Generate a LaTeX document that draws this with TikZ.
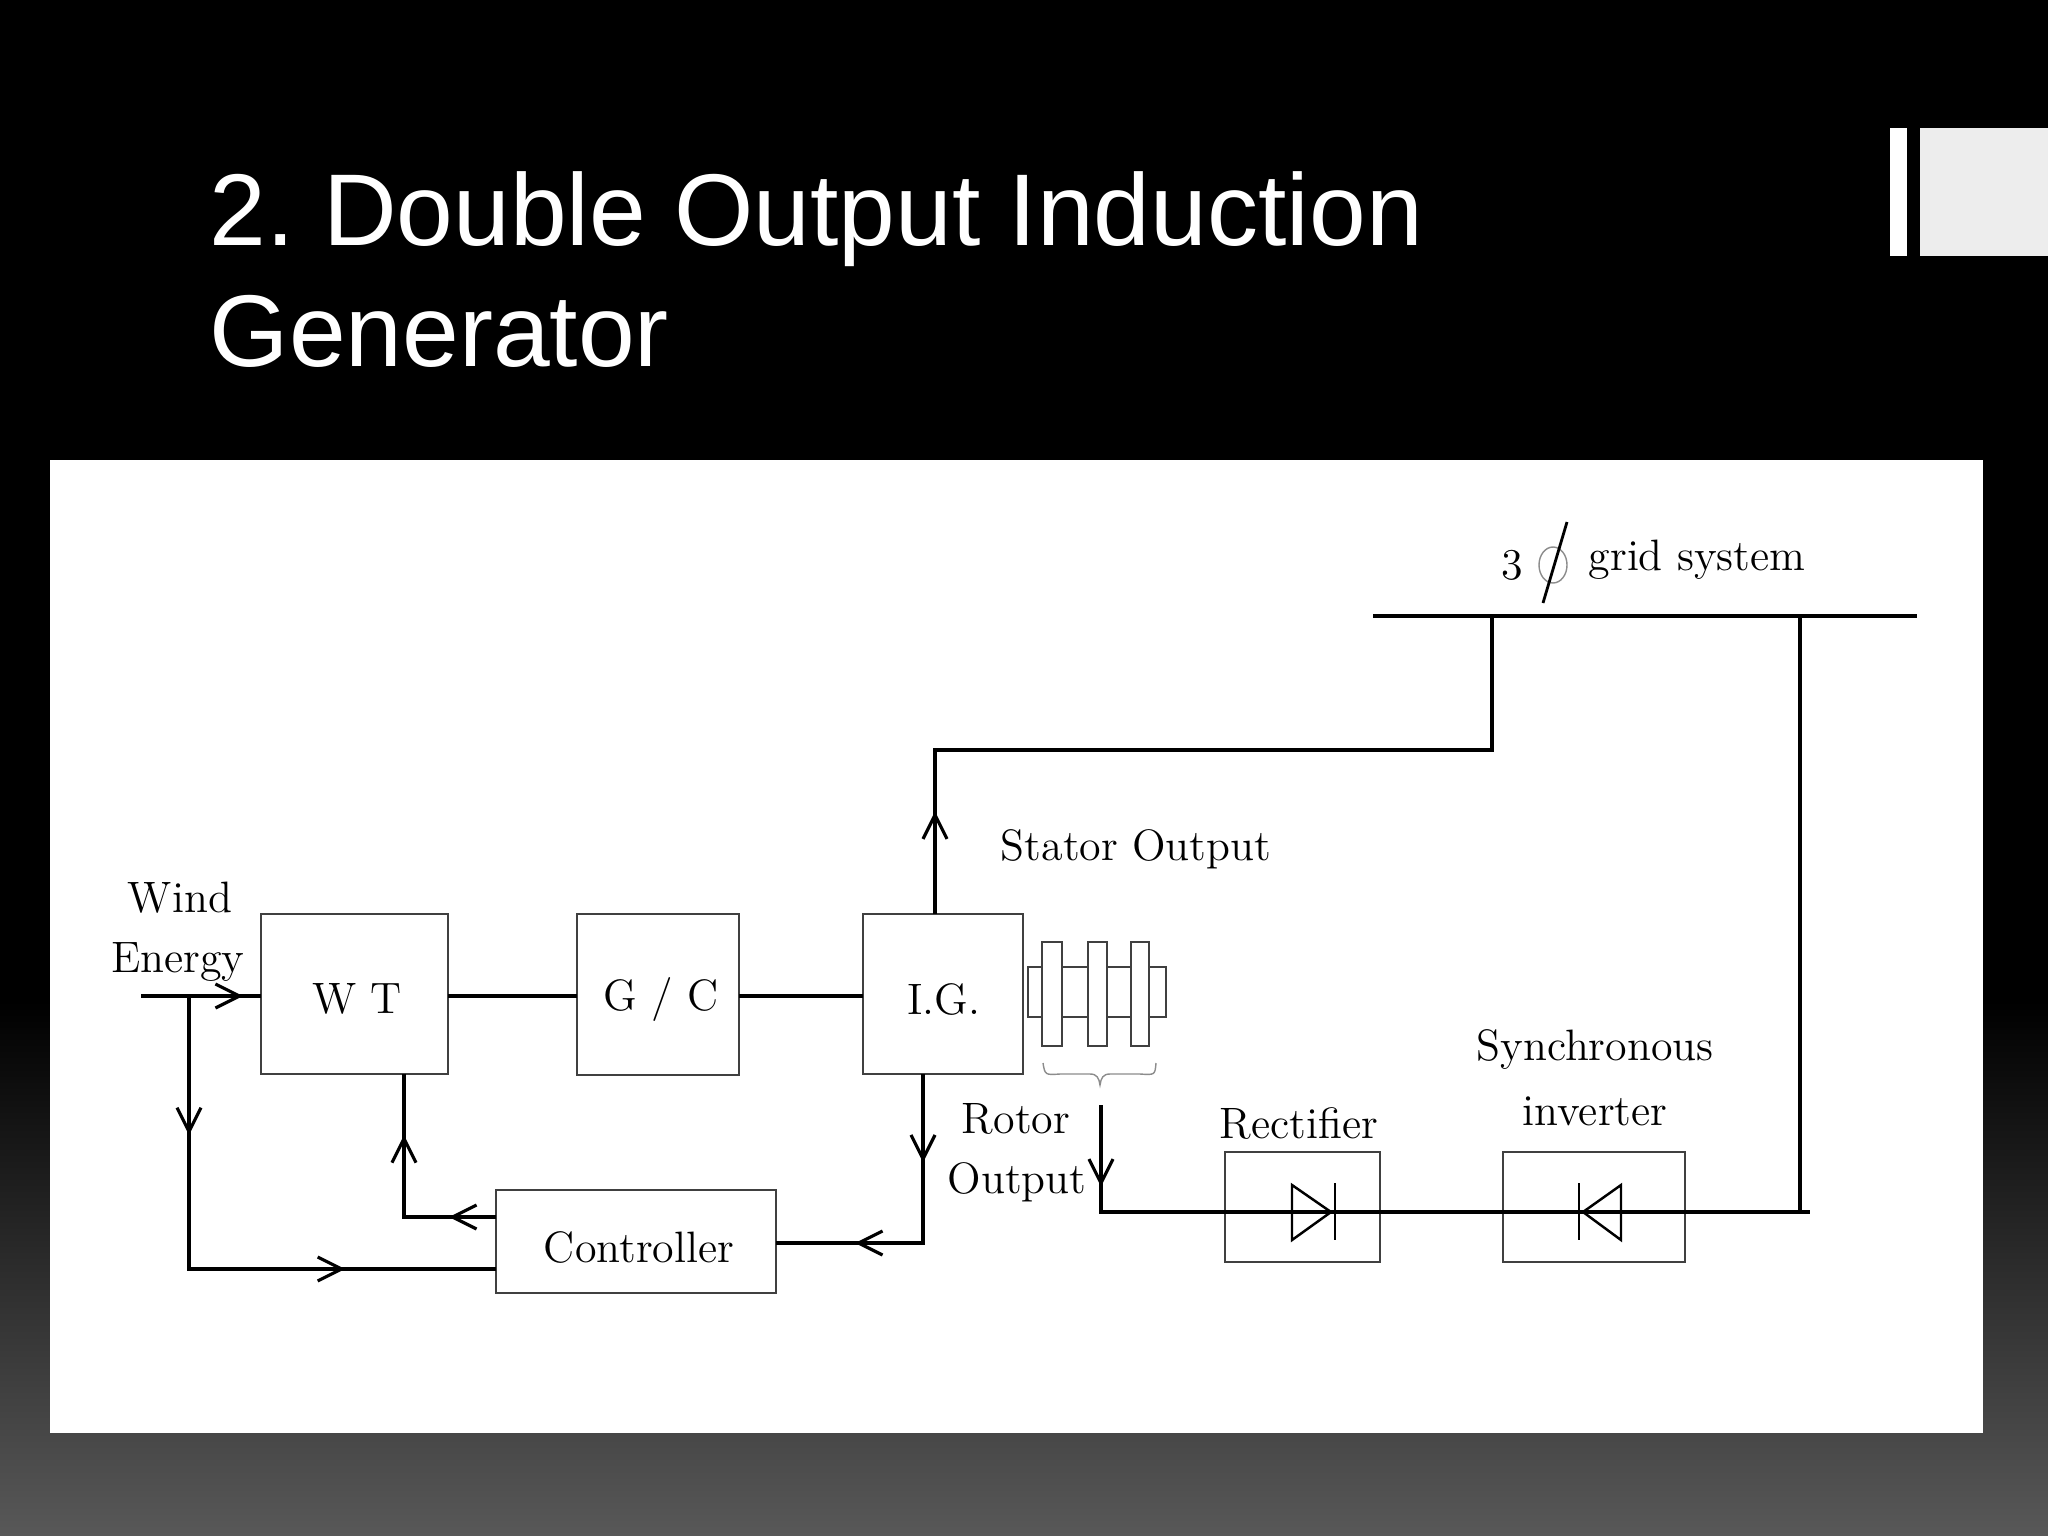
\documentclass[tikz,border=0pt]{standalone}
\usepackage{fontspec}
\newfontfamily\titlefont{Liberation Sans}
\usetikzlibrary{arrows.meta,decorations.markings}
\begin{document}
\frenchspacing
\begin{tikzpicture}[x=0.01cm,y=-0.01cm,
  wire/.style={line width=0.9pt,black},
  box/.style={draw=black!75,line width=0.6pt},
  lbl/.style={font=\fontsize{12.5}{15}\selectfont,inner sep=0pt},
  marr/.style={postaction={decorate,decoration={markings,mark=at position #1 with {\arrow{Straight Barb[length=2.4mm,width=2.4mm]}}}}}]
\useasboundingbox (0,0) rectangle (2048,1536);
\fill[black] (0,0) rectangle (2048,1536);
\shade[top color=black,bottom color={rgb,255:red,88;green,88;blue,88}] (0,1000) rectangle (2048,1536);
% title
\node[anchor=base west,inner sep=0pt,text=white,font=\titlefont\fontsize{29}{34}\selectfont] (t1) at (209,245) {2. Double Output Induction};
\node[anchor=base west,inner sep=0pt,text=white,font=\titlefont\fontsize{29}{34}\selectfont] (t2) at (209,366) {Generator};
\fill[white] (1890,128) rectangle (1907,256);
\fill[black!7] (1920,128) rectangle (2048,256);
% panel
\fill[white] (50,460) rectangle (1983,1433);
% boxes
\draw[box] (261,914) rectangle (448,1074);
\draw[box] (577,914) rectangle (739,1075);
\draw[box] (863,914) rectangle (1023,1074);
\draw[box] (496,1190) rectangle (776,1293);
\draw[box] (1225,1152) rectangle (1380,1262);
\draw[box] (1503,1152) rectangle (1685,1262);
% labels
\node[lbl] (wind) at (180,898) {Wind};
\node[lbl] (energy) at (178,962) {Energy};
\node[lbl] (wtl) at (357,999) {W T};
\node[lbl] (gcl) at (661,999) {G / C};
\node[lbl] (igl) at (944,999) {I.G.};
\node[lbl] (ctl) at (639,1247) {Controller};
\node[lbl] (sto) at (1136,849) {Stator Output};
\node[lbl] (rot) at (1016,1119) {Rotor};
\node[lbl] (rout) at (1017,1182) {Output};
\node[lbl] (rect) at (1299,1123) {Rectifier};
\node[lbl] (syn) at (1595,1049) {Synchronous};
\node[lbl] (inv) at (1595,1111) {inverter};
\node[lbl] (three) at (1512,565) {3};
\node[lbl,anchor=west] (grid) at (1588,560) {grid system};
\draw[black!45,line width=0.4pt] (1553,565) circle[x radius=14,y radius=18];
\draw[line width=0.8pt] (1543,603) -- (1567,522);
% wires
\draw[wire,marr=0.85] (141,996) -- (261,996);
\draw[wire,marr=0.24,marr=0.74] (189,996) -- (189,1269) -- (496,1269);
\draw[wire] (448,996) -- (577,996);
\draw[wire] (739,996) -- (863,996);
\draw[wire,marr=0.2,marr=0.74] (496,1217) -- (404,1217) -- (404,1074);
\draw[wire,marr=0.28,marr=0.75] (923,1074) -- (923,1243) -- (776,1243);
\draw[wire,marr=0.12] (935,914) -- (935,750) -- (1492,750) -- (1492,616);
\draw[wire] (1373,616) -- (1917,616);
\draw[wire] (1800,616) -- (1800,1212);
\draw[wire,marr=0.1] (1101,1105) -- (1101,1212) -- (1810,1212);
% slip rings
\draw[box,line width=0.5pt] (1028,967) rectangle (1166,1017);
\foreach \a/\b in {1042/1062,1088/1107,1131/1149}
  \filldraw[box,line width=0.5pt,fill=white] (\a,942) rectangle (\b,1046);
\draw[black!45,line width=0.4pt] (1043,1063) .. controls (1045,1075) .. (1060,1074) -- (1090,1074) .. controls (1097,1074) and (1099,1078) .. (1100,1085) .. controls (1101,1078) and (1103,1074) .. (1110,1074) -- (1140,1074) .. controls (1155,1075) .. (1156,1063);
% diodes
\draw[line width=0.7pt] (1292,1185) -- (1331,1212) -- (1292,1240) -- cycle;
\draw[line width=0.7pt] (1335,1183) -- (1335,1240);
\draw[line width=0.7pt] (1621,1185) -- (1583,1212) -- (1621,1240) -- cycle;
\draw[line width=0.7pt] (1579,1183) -- (1579,1240);
\end{tikzpicture}
\end{document}
